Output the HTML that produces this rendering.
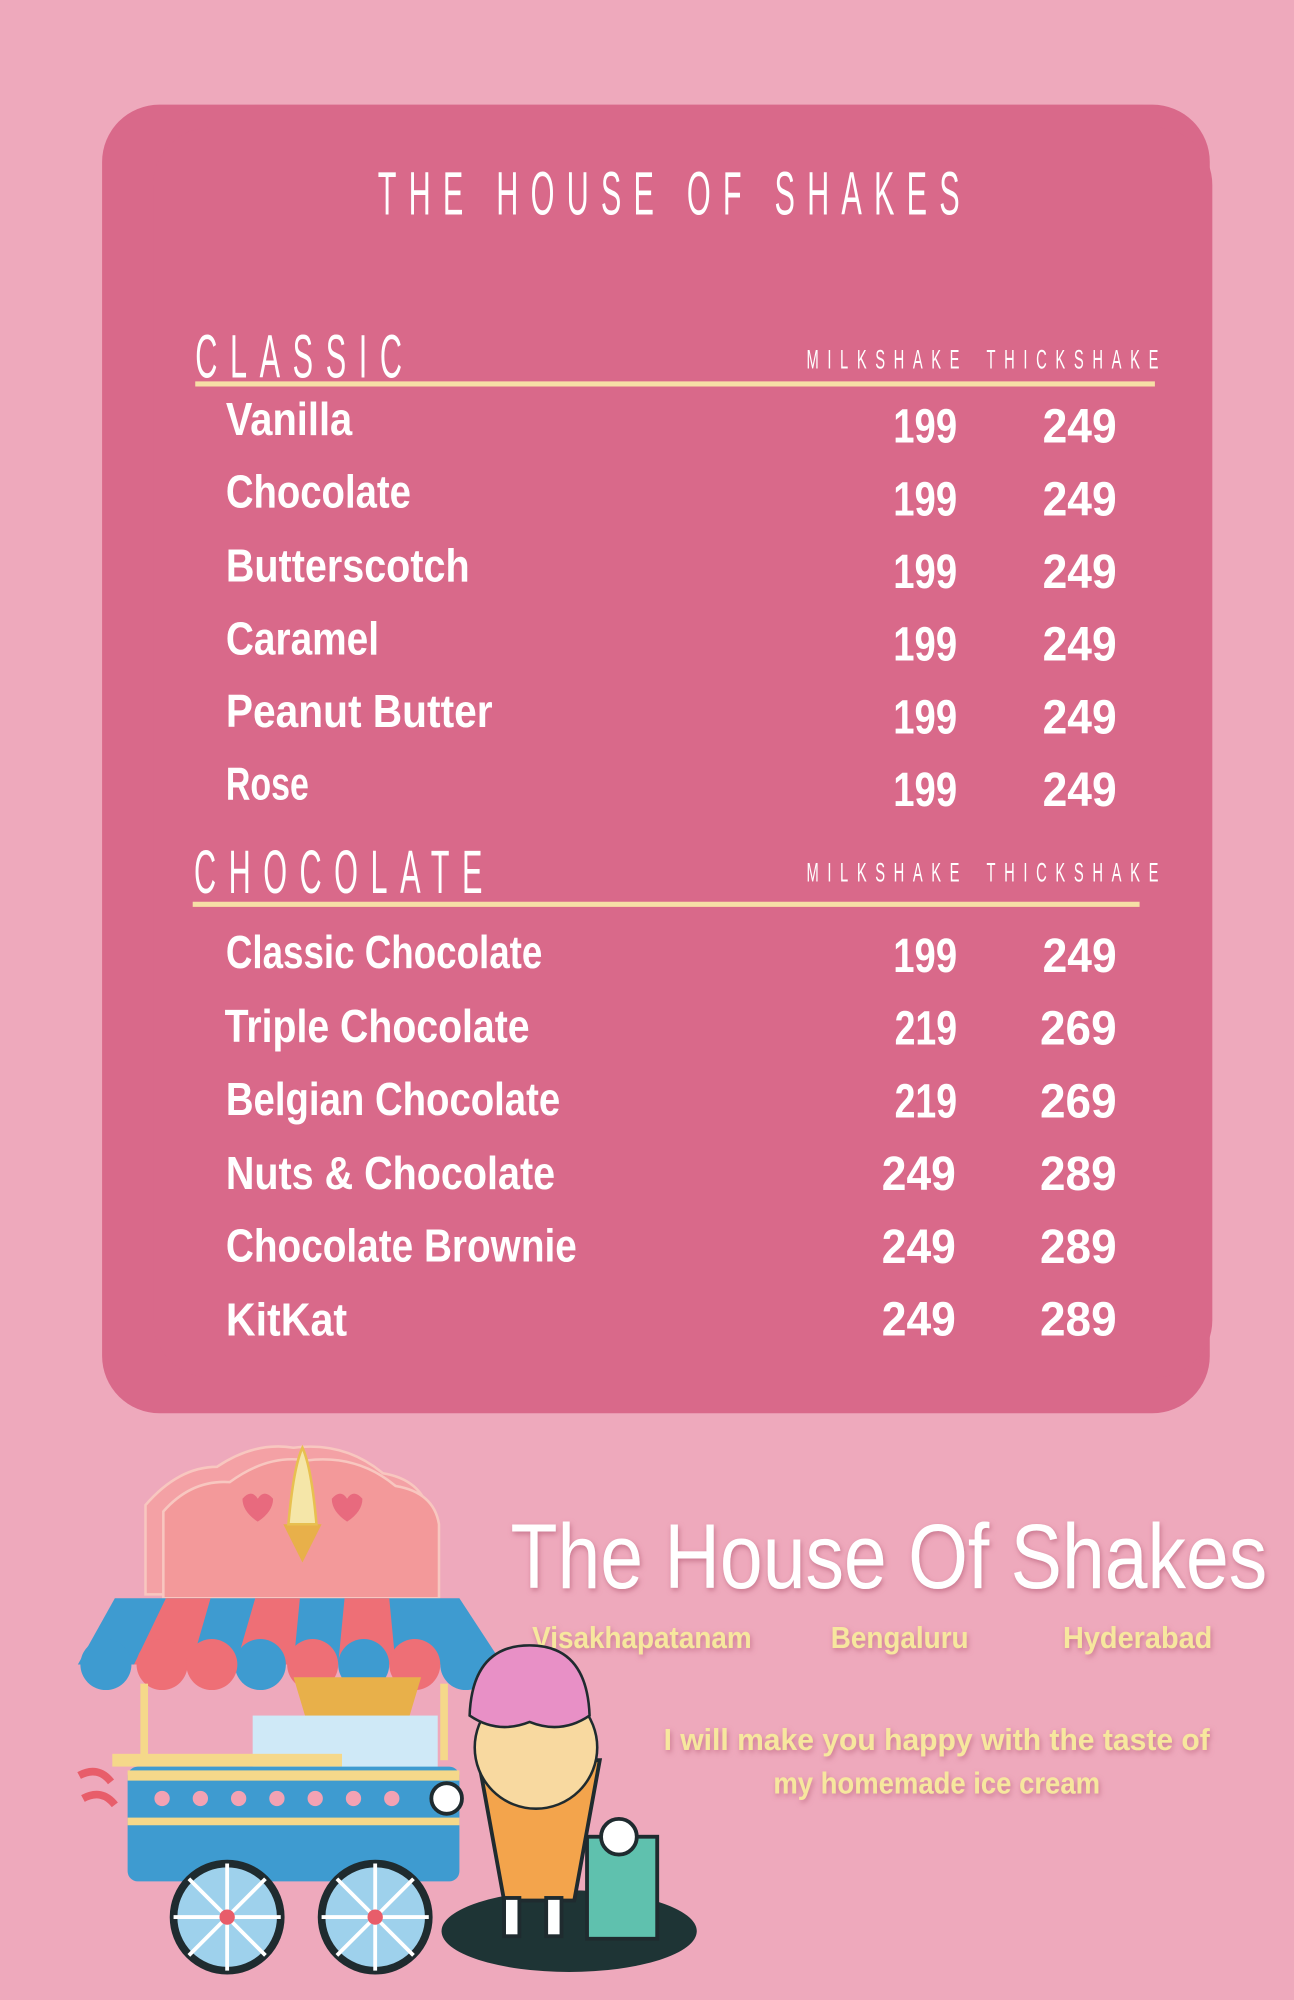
<!DOCTYPE html>
<html><head><meta charset="utf-8"><style>
html,body{margin:0;padding:0;background:#EEA9BC;}
svg{display:block;}
.t{font-family:"Liberation Sans",sans-serif;}
</style></head><body>
<svg width="1294" height="2000" viewBox="0 0 1014 1568" preserveAspectRatio="none" xmlns="http://www.w3.org/2000/svg">
<defs>
<filter id="sh" x="-10%" y="-30%" width="120%" height="160%"><feDropShadow dx="1" dy="2" stdDeviation="2" flood-color="#b05570" flood-opacity="0.6"/></filter>
</defs>
<rect width="1014" height="1568" fill="#EEA9BC"/>
<rect x="80" y="82" width="868" height="1026" rx="45" fill="#D9698A"/>
<rect x="120" y="100" width="830" height="980" rx="45" fill="#D9698A"/>
<g class="t" fill="#fff">
<text transform="translate(296,168) scale(0.5,1)" font-size="48" textLength="912" lengthAdjust="spacing">THE HOUSE OF SHAKES</text>
<text transform="translate(153,296) scale(0.5,1)" font-size="48" textLength="324" lengthAdjust="spacing">CLASSIC</text>
<text transform="translate(152,700) scale(0.5,1)" font-size="48" textLength="452" lengthAdjust="spacing">CHOCOLATE</text>
<g font-size="21">
<text transform="translate(632,289) scale(0.55,1)" textLength="218" lengthAdjust="spacing">MILKSHAKE</text>
<text transform="translate(773,289) scale(0.55,1)" textLength="245" lengthAdjust="spacing">THICKSHAKE</text>
<text transform="translate(632,691) scale(0.55,1)" textLength="218" lengthAdjust="spacing">MILKSHAKE</text>
<text transform="translate(773,691) scale(0.55,1)" textLength="245" lengthAdjust="spacing">THICKSHAKE</text>
</g>
</g>
<line x1="153" y1="301" x2="905" y2="301" stroke="#F7DFA6" stroke-width="4"/>
<line x1="151" y1="709" x2="893" y2="709" stroke="#F7DFA6" stroke-width="4"/>
<g class="t" fill="#fff" font-size="36" font-weight="bold">
<text x="177" y="341" textLength="99" lengthAdjust="spacingAndGlyphs">Vanilla</text>
<text x="177" y="398" textLength="145" lengthAdjust="spacingAndGlyphs">Chocolate</text>
<text x="177" y="456" textLength="191" lengthAdjust="spacingAndGlyphs">Butterscotch</text>
<text x="177" y="513" textLength="120" lengthAdjust="spacingAndGlyphs">Caramel</text>
<text x="177" y="570" textLength="209" lengthAdjust="spacingAndGlyphs">Peanut Butter</text>
<text x="177" y="627" textLength="65" lengthAdjust="spacingAndGlyphs">Rose</text>
<text x="177" y="759" textLength="248" lengthAdjust="spacingAndGlyphs">Classic Chocolate</text>
<text x="176" y="817" textLength="239" lengthAdjust="spacingAndGlyphs">Triple Chocolate</text>
<text x="177" y="874" textLength="262" lengthAdjust="spacingAndGlyphs">Belgian Chocolate</text>
<text x="177" y="932" textLength="258" lengthAdjust="spacingAndGlyphs">Nuts &amp; Chocolate</text>
<text x="177" y="989" textLength="275" lengthAdjust="spacingAndGlyphs">Chocolate Brownie</text>
<text x="177" y="1047" textLength="95" lengthAdjust="spacingAndGlyphs">KitKat</text>
</g>
<g class="t" fill="#fff" font-size="38" font-weight="bold">
<text x="700" y="347" textLength="50" lengthAdjust="spacingAndGlyphs">199</text><text x="817" y="347" textLength="58" lengthAdjust="spacingAndGlyphs">249</text>
<text x="700" y="404" textLength="50" lengthAdjust="spacingAndGlyphs">199</text><text x="817" y="404" textLength="58" lengthAdjust="spacingAndGlyphs">249</text>
<text x="700" y="461" textLength="50" lengthAdjust="spacingAndGlyphs">199</text><text x="817" y="461" textLength="58" lengthAdjust="spacingAndGlyphs">249</text>
<text x="700" y="518" textLength="50" lengthAdjust="spacingAndGlyphs">199</text><text x="817" y="518" textLength="58" lengthAdjust="spacingAndGlyphs">249</text>
<text x="700" y="575" textLength="50" lengthAdjust="spacingAndGlyphs">199</text><text x="817" y="575" textLength="58" lengthAdjust="spacingAndGlyphs">249</text>
<text x="700" y="632" textLength="50" lengthAdjust="spacingAndGlyphs">199</text><text x="817" y="632" textLength="58" lengthAdjust="spacingAndGlyphs">249</text>
<text x="700" y="762" textLength="50" lengthAdjust="spacingAndGlyphs">199</text><text x="817" y="762" textLength="58" lengthAdjust="spacingAndGlyphs">249</text>
<text x="701" y="819" textLength="49" lengthAdjust="spacingAndGlyphs">219</text><text x="815" y="819" textLength="60" lengthAdjust="spacingAndGlyphs">269</text>
<text x="701" y="876" textLength="49" lengthAdjust="spacingAndGlyphs">219</text><text x="815" y="876" textLength="60" lengthAdjust="spacingAndGlyphs">269</text>
<text x="691" y="933" textLength="58" lengthAdjust="spacingAndGlyphs">249</text><text x="815" y="933" textLength="60" lengthAdjust="spacingAndGlyphs">289</text>
<text x="691" y="990" textLength="58" lengthAdjust="spacingAndGlyphs">249</text><text x="815" y="990" textLength="60" lengthAdjust="spacingAndGlyphs">289</text>
<text x="691" y="1047" textLength="58" lengthAdjust="spacingAndGlyphs">249</text><text x="815" y="1047" textLength="60" lengthAdjust="spacingAndGlyphs">289</text>
</g>
<text class="t" x="400" y="1245" font-size="72" fill="#fff" filter="url(#sh)" textLength="593" lengthAdjust="spacingAndGlyphs">The House Of Shakes</text>
<g class="t" fill="#F7E79E" font-size="24" font-weight="bold" filter="url(#sh)">
<text x="417" y="1292" textLength="172" lengthAdjust="spacingAndGlyphs">Visakhapatanam</text>
<text x="651" y="1292" textLength="108" lengthAdjust="spacingAndGlyphs">Bengaluru</text>
<text x="833" y="1292" textLength="117" lengthAdjust="spacingAndGlyphs">Hyderabad</text>
<text x="520" y="1372" textLength="428" lengthAdjust="spacingAndGlyphs">I will make you happy with the taste of</text>
<text x="606" y="1406" textLength="256" lengthAdjust="spacingAndGlyphs">my homemade ice cream</text>
</g>
<g>
<path d="M114 1250 L114 1180 Q140 1150 170 1150 Q200 1130 230 1135 Q270 1130 300 1155 Q330 1160 336 1185 L336 1250 Z" fill="#F4A1A5" stroke="#F8C7C0" stroke-width="2"/>
<path d="M128 1253 L128 1185 Q150 1160 180 1162 Q210 1140 240 1145 Q280 1140 310 1165 Q340 1170 344 1195 L344 1253 Z" fill="#F3999A" stroke="#F8C7C0" stroke-width="2"/>
<path d="M222 1195 L252 1195 L237 1225 Z" fill="#E8B04A"/>
<path d="M226 1195 Q230 1150 237 1135 Q244 1150 248 1195 Z" fill="#F5E6A8" stroke="#E8C050" stroke-width="2"/>
<path d="M190 1175 q7 -8 12 0 q5 -8 12 0 q0 10 -12 18 q-12 -8 -12 -18z" fill="#E86A7E"/>
<path d="M260 1175 q7 -8 12 0 q5 -8 12 0 q0 10 -12 18 q-12 -8 -12 -18z" fill="#E86A7E"/>
<path d="M90 1253 L360 1253 L394 1305 L61 1305 Z" fill="#3E9BD0"/>
<path d="M130 1253 L165 1253 L150 1305 L105 1305 Z M200 1253 L235 1253 L230 1305 L185 1305 Z M270 1253 L305 1253 L310 1305 L265 1305 Z" fill="#EE6F76"/>
<g fill="#3E9BD0"><circle cx="83" cy="1305" r="20"/><circle cx="204" cy="1305" r="20"/><circle cx="285" cy="1305" r="20"/><circle cx="365" cy="1305" r="20"/></g>
<g fill="#EE6F76"><circle cx="127" cy="1305" r="20"/><circle cx="166" cy="1305" r="20"/><circle cx="245" cy="1305" r="20"/><circle cx="325" cy="1305" r="20"/></g>
<rect x="110" y="1320" width="6" height="60" fill="#F5D88A"/><rect x="345" y="1320" width="6" height="60" fill="#F5D88A"/>
<path d="M230 1315 L330 1315 L318 1355 L242 1355 Z" fill="#E8B04A"/>
<rect x="198" y="1345" width="145" height="45" fill="#CFE9F7"/>
<rect x="88" y="1375" width="180" height="10" fill="#F5D88A"/>
<rect x="100" y="1385" width="260" height="90" rx="8" fill="#3E9BD0"/>
<rect x="100" y="1388" width="260" height="8" fill="#F5D88A"/>
<rect x="100" y="1425" width="260" height="6" fill="#F5D88A"/>
<g fill="#F3A2B3"><circle cx="127" cy="1410" r="6"/><circle cx="157" cy="1410" r="6"/><circle cx="187" cy="1410" r="6"/><circle cx="217" cy="1410" r="6"/><circle cx="247" cy="1410" r="6"/><circle cx="277" cy="1410" r="6"/><circle cx="307" cy="1410" r="6"/></g>
<path d="M62 1392 q15 -8 25 5 M65 1410 q15 -8 25 5" stroke="#E85D6A" stroke-width="6" fill="none"/>
<ellipse cx="446" cy="1514" rx="100" ry="32" fill="#1E3435"/>
<g stroke="#1f2b2f" stroke-width="6">
<circle cx="178" cy="1503" r="42" fill="#9ED1EC"/>
<circle cx="294" cy="1503" r="42" fill="#9ED1EC"/>
</g>
<path d="M136 1503 h84 M178 1461 v84 M148 1473 l60 60 M208 1473 l-60 60 M252 1503 h84 M294 1461 v84 M264 1473 l60 60 M324 1473 l-60 60" stroke="#fff" stroke-width="3"/>
<circle cx="178" cy="1503" r="6" fill="#E85D6A"/><circle cx="294" cy="1503" r="6" fill="#E85D6A"/>
<rect x="460" y="1440" width="55" height="80" fill="#5FC1AE" stroke="#1f2b2f" stroke-width="3"/>
<path d="M375 1380 L470 1380 L450 1490 L395 1490 Z" fill="#F3A44C" stroke="#1f2b2f" stroke-width="3"/>
<circle cx="420" cy="1370" r="48" fill="#F8D9A0" stroke="#1f2b2f" stroke-width="2"/>
<path d="M368 1345 Q370 1290 415 1290 Q460 1290 462 1345 Q440 1360 415 1350 Q390 1360 368 1345 Z" fill="#E890C6" stroke="#1f2b2f" stroke-width="2"/>
<circle cx="350" cy="1410" r="12" fill="#fff" stroke="#1f2b2f" stroke-width="3"/>
<circle cx="485" cy="1440" r="14" fill="#fff" stroke="#1f2b2f" stroke-width="3"/>
<rect x="395" y="1488" width="12" height="30" fill="#fff" stroke="#1f2b2f" stroke-width="3"/>
<rect x="428" y="1488" width="12" height="30" fill="#fff" stroke="#1f2b2f" stroke-width="3"/>
</g>
</svg>
</body></html>
